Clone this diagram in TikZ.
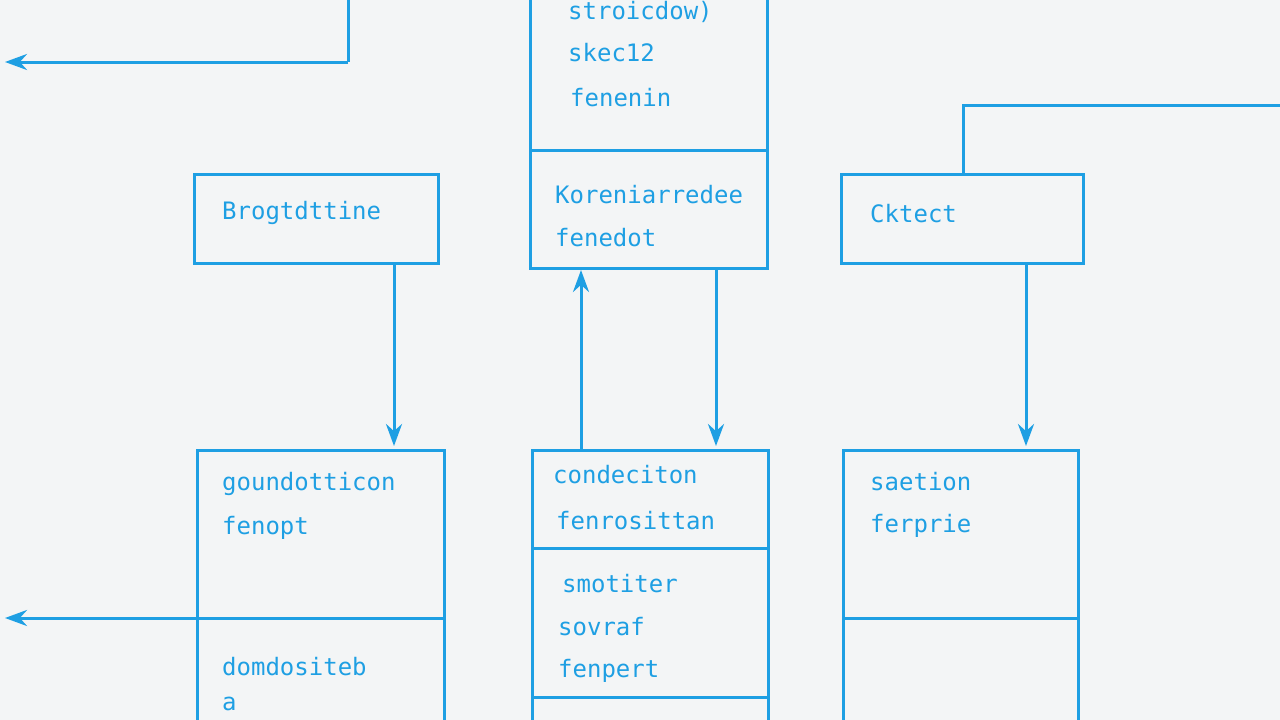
\documentclass[tikz,border=0pt]{standalone}
\usepackage{fontspec}
\setmainfont{DejaVu Sans Mono}
\usetikzlibrary{arrows.meta}
\definecolor{bl}{HTML}{1E9FE3}
\definecolor{bg}{HTML}{F3F5F6}
\tikzset{
  box/.style={draw=bl,line width=3pt},
  ln/.style={draw=bl,line width=3pt},
  arr/.style={ln,-{Stealth[length=22pt,width=16pt]}},
  lab/.style={anchor=west,text=bl,inner sep=0pt,font=\fontsize{24}{28}\selectfont}
}
\begin{document}
\begin{tikzpicture}[x=1pt,y=-1pt]
\fill[bg] (0,0) rectangle (1280,720);
\useasboundingbox (0,0) rectangle (1280,720);
% top-left connector
\coordinate (tl1) at (348,-5);
\coordinate (tl2) at (348,62);
\coordinate (tl3) at (5,62);
\draw[ln] (tl1) -- (tl2);
\draw[arr] (tl2) -- (tl3);
% top center box
\draw[box] (530,-5) rectangle (767,150);
\draw[box] (530,150) rectangle (767,268);
\node[lab] (t1) at (568,12) {stroicdow)};
\node[lab] (t2) at (568,53) {skec12};
\node[lab] (t3) at (570,98) {fenenin};
\node[lab] (t4) at (555,195) {Koreniarredee};
\node[lab] (t5) at (555,238) {fenedot};
% left box
\draw[box] (194,174) rectangle (438,263);
\node[lab] (l1) at (222,213) {Brogtdttine};
% right box
\draw[box] (841,174) rectangle (1083,263);
\node[lab] (r1) at (870,214) {Cktect};
\coordinate (rc1) at (963,174);
\coordinate (rc2) at (963,105);
\coordinate (rc3) at (1285,105);
\draw[ln] (rc1) -- (rc2) -- (rc3);
% arrows
\coordinate (a1) at (394,263); \coordinate (a2) at (394,446);
\coordinate (b1) at (581,450); \coordinate (b2) at (581,270);
\coordinate (c1) at (716,268); \coordinate (c2) at (716,446);
\coordinate (d1) at (1026,263); \coordinate (d2) at (1026,446);
\draw[arr] (a1) -- (a2);
\draw[arr] (b1) -- (b2);
\draw[arr] (c1) -- (c2);
\draw[arr] (d1) -- (d2);
% bottom left
\draw[box] (197,450) rectangle (444,730);
\draw[ln] (197,618) -- (444,618);
\node[lab] (bl1) at (222,484) {goundotticon};
\node[lab] (bl2) at (222,528) {fenopt};
\node[lab] (bl3) at (222,667) {domdositeb};
\node[lab] (bl4) at (222,704) {a};
\coordinate (e1) at (197,618); \coordinate (e2) at (5,618);
\draw[arr] (e1) -- (e2);
% bottom center
\draw[box] (532,450) rectangle (768,730);
\draw[ln] (532,548) -- (768,548);
\draw[ln] (532,697) -- (768,697);
\node[lab] (bc1) at (553,475) {condeciton};
\node[lab] (bc2) at (556,521) {fenrosittan};
\node[lab] (bc3) at (562,584) {smotiter};
\node[lab] (bc4) at (558,627) {sovraf};
\node[lab] (bc5) at (558,671) {fenpert};
% bottom right
\draw[box] (843,450) rectangle (1078,730);
\draw[ln] (843,618) -- (1078,618);
\node[lab] (br1) at (870,482) {saetion};
\node[lab] (br2) at (870,526) {ferprie};
\end{tikzpicture}
\end{document}
